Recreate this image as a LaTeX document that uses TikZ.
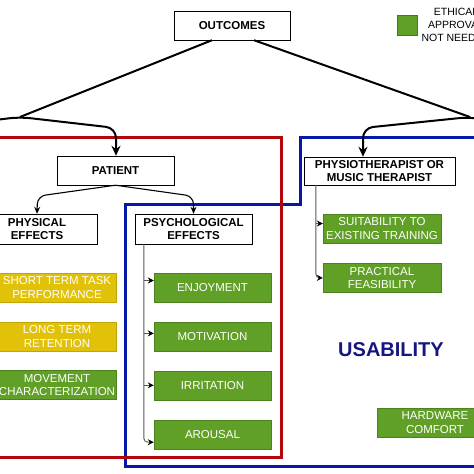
\documentclass[tikz,border=0pt]{standalone}
\usepackage{fontspec}
\setmainfont{Liberation Sans}
\usepackage{tikz}
\usetikzlibrary{arrows.meta,positioning}
\definecolor{okgreen}{RGB}{96,160,38}
\definecolor{okyellow}{RGB}{226,194,8}
\definecolor{patred}{RGB}{178,6,10}
\definecolor{usablue}{RGB}{6,24,168}
\definecolor{usatext}{RGB}{22,22,128}

\begin{document}
\begin{tikzpicture}[
  x=1pt,y=-1pt,
  font=\fontsize{11.5}{13.5}\selectfont,
  node distance=19.5pt and 12pt,
  head/.style={draw,fill=white,align=center,font=\fontsize{11.5}{13.5}\selectfont\bfseries,minimum height=29pt,inner sep=1pt},
  good/.style={draw=okgreen!80!black,fill=okgreen,text=white,align=center,minimum height=29pt,minimum width=117pt,inner sep=0pt},
  maybe/.style={draw=okyellow!85!black,fill=okyellow,text=white,align=center,minimum height=29pt,minimum width=118pt,inner sep=0pt},
  region/.style={line width=3pt},
  arr/.style={-{Stealth[length=10pt,width=9pt]},line width=2pt},
  sarr/.style={-{Stealth[length=7pt,width=6pt]},line width=1.1pt},
  garr/.style={-{Stealth[length=6pt,width=6pt,black]},line width=0.9pt,draw=black!65}
]
\useasboundingbox (0,0) rectangle (474,474);
\clip (0,0) rectangle (474,474);
\fill[white] (0,0) rectangle (474,474);

\draw[region,usablue] (480,137) -- (300,137) -- (300,204) -- (125,204) -- (125,466) -- (480,466);
\draw[region,patred] (-5,137) rectangle (281,457);

\node[head,minimum width=116pt] (outcomes) at (232,25.5) {OUTCOMES};
\node[head,minimum width=117pt] (patient) at (115.5,170.5) {PATIENT};
\node[head,minimum width=151pt,minimum height=28pt] (physio) at (379.5,171) {PHYSIOTHERAPIST OR\\MUSIC THERAPIST};
\node[head,minimum width=120pt,minimum height=30pt] (physical) at (37,229) {PHYSICAL\\EFFECTS};
\node[head,minimum width=117pt,minimum height=30pt] (psych) at (193.5,229) {PSYCHOLOGICAL\\EFFECTS};

\node[maybe] (short) at (57,287.5) {SHORT TERM TASK\\PERFORMANCE};
\node[maybe,below=19.5pt of short] (long) {LONG TERM\\RETENTION};
\node[good,minimum width=118pt,below=19pt of long] (movement) {MOVEMENT\\CHARACTERIZATION};

\node[good] (enjoy) at (212.5,287.5) {ENJOYMENT};
\node[good,below=of enjoy] (motiv) {MOTIVATION};
\node[good,below=of motiv] (irrit) {IRRITATION};
\node[good,below=of irrit] (arousal) {AROUSAL};

\node[good,minimum width=118pt] (suit) at (382,228.5) {SUITABILITY TO\\EXISTING TRAINING};
\node[good,minimum width=118pt,below=20pt of suit] (practical) {PRACTICAL\\FEASIBILITY};
\node[good,minimum width=116pt] (hardware) at (435,422.5) {HARDWARE\\COMFORT};

\node[text=usatext,font=\fontsize{20}{24}\selectfont\bfseries] (usability) at (391,350) {USABILITY};

\node[draw=okgreen!75!black,fill=okgreen,minimum size=20pt,inner sep=0pt] (legsq) at (407,25) {};
\node[align=center,font=\fontsize{10.5}{13}\selectfont] (legtext) at (456,25) {ETHICAL\\APPROVAL\\NOT NEEDED};

\coordinate (jl) at (20,117);
\coordinate (jr) at (470,117);
\coordinate (ol) at (-5,120);
\coordinate (or) at (480,119);
\coordinate (kl) at (116,128);
\coordinate (kr) at (363,128);
\draw[line width=2pt] ([xshift=-20pt]outcomes.south) -- (jl);
\draw[line width=2pt] ([xshift=22pt]outcomes.south) -- (jr);
\draw[arr,rounded corners=10pt] (ol) -- (jl) -- (kl) -- (patient.north -| kl);
\draw[arr,rounded corners=10pt] (or) -- (jr) -- (kr) -- (physio.north -| kr);

\draw[sarr,rounded corners=8pt] (patient.south) -- ++(-78,11) -- (physical.north);
\draw[sarr,rounded corners=8pt] (patient.south) -- ++(78,11) -- (psych.north);

\coordinate (pv) at ([xshift=9pt]psych.south west);
\draw[garr,rounded corners=4pt] (pv) |- ([yshift=-8pt]arousal.west);
\draw[garr] ([yshift=7pt]enjoy.west -| pv) -- ([yshift=7pt]enjoy.west);
\draw[garr] ([yshift=3pt]motiv.west -| pv) -- ([yshift=3pt]motiv.west);
\draw[garr] (irrit.west -| pv) -- (irrit.west);

\coordinate (tv) at ([xshift=12pt]physio.south west);
\draw[garr,rounded corners=4pt] (tv) |- (practical.west);
\draw[garr] ([yshift=5pt]suit.west -| tv) -- ([yshift=5pt]suit.west);
\end{tikzpicture}
\end{document}
